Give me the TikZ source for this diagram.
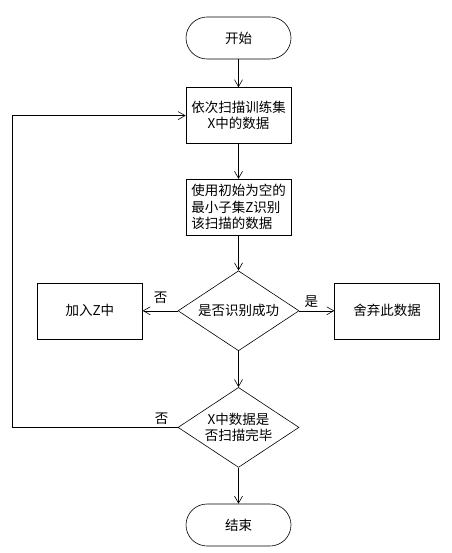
\documentclass[tikz,border=0pt]{standalone}
\usepackage{fontspec}
\setmainfont{Noto Sans CJK SC}
\usetikzlibrary{shapes.geometric, arrows.meta, positioning}

\begin{document}
\begin{tikzpicture}[font=\fontsize{13.5pt}{16.5pt}\selectfont, line width=0.6pt,
    >={Straight Barb[length=7pt,width=8pt]}, node distance=35pt]

\useasboundingbox (0,0) rectangle (451pt,-553pt);

% Start
\node[draw,
    rounded corners=21pt,
    minimum width=105pt,
    minimum height=42pt] (start) at (238.5pt,-38pt) {开始};

% Scan the training set
\node[draw,
    below=28pt of start,
    minimum width=105pt,
    minimum height=56pt,
    align=center
] (scan) {依次扫描训练集\\X中的数据};

\node[draw,
    below=of scan,
    minimum width=105pt,
    minimum height=56pt,
    align=left
] (ident) {使用初始为空的\\最小子集Z识别\\该扫描的数据};

% Decisions
\node[draw,
    diamond, aspect=1.5,
    below=of ident,
    minimum width=121pt,
    minimum height=80pt,
    inner sep=0pt
] (ok) {是否识别成功};

\node[draw,
    left=of ok,
    minimum width=105pt,
    minimum height=56pt
] (add) {加入Z中};

\node[draw,
    right=of ok,
    minimum width=105pt,
    minimum height=56pt
] (drop) {舍弃此数据};

\node[draw,
    diamond, aspect=1.5,
    below=36pt of ok,
    minimum width=121pt,
    minimum height=80pt,
    inner sep=0pt, align=center
] (done) {X中数据是\\否扫描完毕};

% End
\node[draw,
    below=36pt of done,
    rounded corners=21pt,
    minimum width=105pt,
    minimum height=42pt] (stop) {结束};

% Labels
\node[above left=6pt and 9pt of ok.west, inner sep=1pt] (no1) {否};
\node[above right=2pt and 4pt of ok.east, inner sep=1pt] (yes) {是};
\node[above left=2pt and 8pt of done.west, inner sep=1pt] (no2) {否};

\coordinate (loop) at (12pt,0);

% Arrows
\draw[->] (start) -- (scan);
\draw[->] (scan) -- (ident);
\draw[->] (ident) -- (ok);
\draw[->] (ok) -- (add);
\draw[->] (ok) -- (drop);
\draw[->] (ok) -- (done);
\draw[->] (done) -- (stop);
\draw[->] (done.west) -- (done.west -| loop) |- (scan.west);

\end{tikzpicture}
\end{document}
